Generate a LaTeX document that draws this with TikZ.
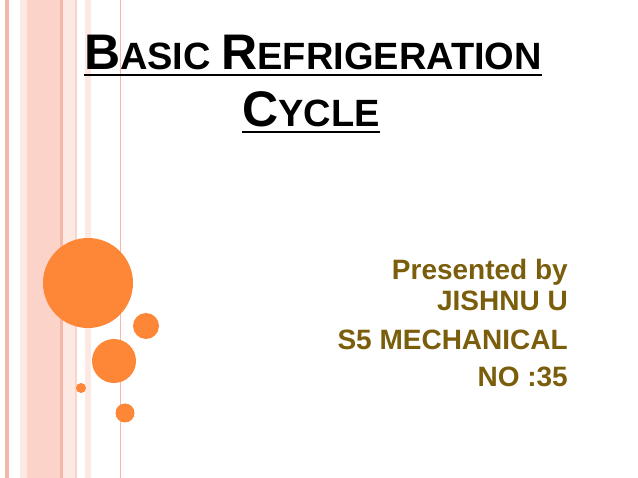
\documentclass[tikz,border=0pt]{standalone}
\usepackage{fontspec}
\setmainfont{Liberation Sans}
\definecolor{org}{HTML}{FE8637}
\definecolor{olive}{HTML}{7A5E0C}
\definecolor{pk}{HTML}{FBD3C9}
\definecolor{pkl}{HTML}{FDE9E3}
\definecolor{pkd}{HTML}{F5B8A8}
\begin{document}
\begin{tikzpicture}[x=1pt,y=-1pt,
  dot/.style={fill=org,draw=none},
  ttl/.style={font=\bfseries,anchor=base,inner sep=0pt},
  pres/.style={font=\bfseries\fontsize{28}{32}\selectfont,text=olive,anchor=base east,inner sep=0pt}]
\useasboundingbox (0,0) rectangle (638,478);
\fill[white] (0,0) rectangle (638,478);
\fill[pkd] (5,0) rectangle (9,478);
\fill[pkl] (20,0) rectangle (27,478);
\fill[pk] (27,0) rectangle (60,478);
\fill[pkd] (60,0) rectangle (63,478);
\fill[pkl] (63,0) rectangle (75,478);
\fill[pk] (75,0) rectangle (77,478);
\fill[pkl] (85,0) rectangle (91,478);
\fill[pkd] (119.5,0) rectangle (120.5,478);
\fill[dot] (88,283) circle (45);
\fill[dot] (146,326) circle (13);
\fill[dot] (114,361) circle (22);
\fill[dot] (81,388) circle (5);
\fill[dot] (125,413) circle (9.5);
\node[ttl] (t1) at (313,70) {\fontsize{50}{54}\selectfont B\fontsize{38}{42}\selectfont ASIC \fontsize{50}{54}\selectfont R\fontsize{38}{42}\selectfont EFRIGERATION};
\draw[line width=2.5pt] (t1.base west)++(0,5) -- ([yshift=-5pt]t1.base east);
\node[ttl] (t2) at (311,127) {\fontsize{50}{54}\selectfont C\fontsize{38}{42}\selectfont YCLE};
\draw[line width=2.5pt] (t2.base west)++(0,5) -- ([yshift=-5pt]t2.base east);
\node[pres] (p1) at (568,280) {Presented by};
\node[pres] (p2) at (568,311) {JISHNU U};
\node[pres] (p3) at (568,350) {S5 MECHANICAL};
\node[pres] (p4) at (568,387) {NO :35};
\end{tikzpicture}
\end{document}
